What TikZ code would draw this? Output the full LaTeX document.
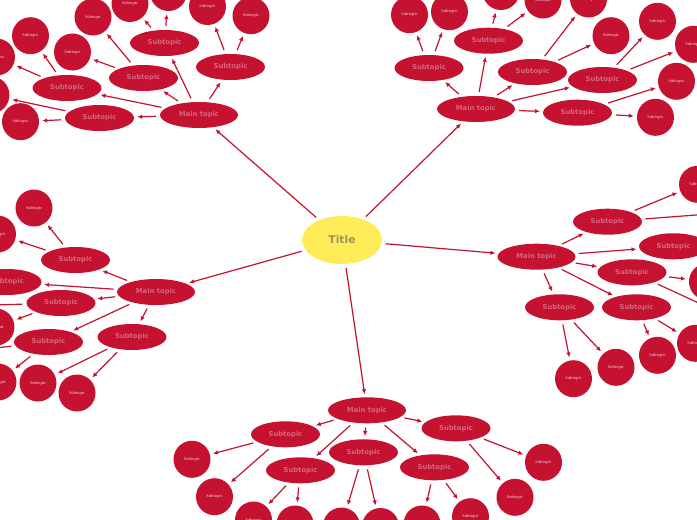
\documentclass[tikz,border=0pt]{standalone}
\usepackage{fontspec}
\setmainfont{DejaVu Sans}
\newfontfamily\leaffont{Liberation Serif}
\usetikzlibrary{shapes.geometric,arrows.meta}
\definecolor{mmred}{HTML}{C41230}
\definecolor{mmtext}{HTML}{D4667F}
\definecolor{mmleaf}{HTML}{E49AAA}
\definecolor{mmyellow}{HTML}{FFEC58}
\definecolor{mmtitle}{HTML}{9E9458}
\tikzset{
  titlenode/.style={ellipse,fill=mmyellow,minimum width=80pt,minimum height=48pt,inner sep=0pt,
    text=mmtitle,font=\fontsize{10.7}{12}\selectfont\bfseries},
  mainnode/.style={ellipse,fill=mmred,minimum width=78pt,minimum height=26pt,inner sep=0pt,
    text=mmtext,font=\fontsize{6.8}{8}\selectfont\bfseries},
  subnode/.style={ellipse,fill=mmred,minimum width=69pt,minimum height=26pt,inner sep=0pt,
    text=mmtext,font=\fontsize{6.8}{8}\selectfont\bfseries},
  leafnode/.style={circle,fill=mmred,minimum size=37pt,inner sep=0pt,
    text=mmleaf,font=\leaffont\fontsize{4.3}{5}\selectfont\bfseries},
  arr/.style={draw=mmred,line width=1.2pt,-{Latex[length=5pt,width=4.5pt]},
    shorten <=4pt,shorten >=3pt},
}
\begin{document}
\begin{tikzpicture}[x=1pt,y=-1pt]
\path[use as bounding box] (0,0) rectangle (697,520);
\clip (0,0) rectangle (697,520);
% title
\node[titlenode] (T) at (342,240) {Title};
% top-left
\node[mainnode] (mTL) at (199,115) {Main topic};
\node[subnode] (sTL1) at (164.5,43) {Subtopic};
\node[subnode] (sTL2) at (143.5,78) {Subtopic};
\node[subnode] (sTL3) at (230.5,67) {Subtopic};
\node[subnode] (sTL4) at (67,88) {Subtopic};
\node[subnode] (sTL5) at (99.5,118) {Subtopic};
\node[leafnode] (cTL1a) at (130,3.5) {Subtopic};
\node[leafnode] (cTL1b) at (168.5,-7.5) {Subtopic};
\node[leafnode] (cTL2a) at (93,17) {Subtopic};
\node[leafnode] (cTL2b) at (72.5,52) {Subtopic};
\node[leafnode] (cTL3a) at (207.5,6.5) {Subtopic};
\node[leafnode] (cTL3b) at (251,15.7) {Subtopic};
\node[leafnode] (cTL4a) at (30.5,35.7) {Subtopic};
\node[leafnode] (cTL4b) at (-3.5,57) {Subtopic};
\node[leafnode] (cTL5a) at (-9,95) {Subtopic};
\node[leafnode] (cTL5b) at (20.5,121.7) {Subtopic};
% top-right
\node[mainnode] (mTR) at (476,109) {Main topic};
\node[subnode] (sTR1) at (429,68) {Subtopic};
\node[subnode] (sTR2) at (488.5,40.7) {Subtopic};
\node[subnode] (sTR3) at (532.5,72) {Subtopic};
\node[subnode] (sTR4) at (602.5,80) {Subtopic};
\node[subnode] (sTR5) at (577.5,112.7) {Subtopic};
\node[leafnode] (cTR1a) at (409.5,14.7) {Subtopic};
\node[leafnode] (cTR1b) at (449.5,11.7) {Subtopic};
\node[leafnode] (cTR2a) at (501,-8.5) {Subtopic};
\node[leafnode] (cTR2b) at (543,0) {Subtopic};
\node[leafnode] (cTR3a) at (588.5,-1) {Subtopic};
\node[leafnode] (cTR3b) at (611,35.7) {Subtopic};
\node[leafnode] (cTR4a) at (657.5,21.3) {Subtopic};
\node[leafnode] (cTR4b) at (693.5,44.3) {Subtopic};
\node[leafnode] (cTR5a) at (676.5,81.3) {Subtopic};
\node[leafnode] (cTR5b) at (655.5,117.3) {Subtopic};
% left
\node[mainnode] (mL) at (156,292) {Main topic};
\node[subnode] (sL1) at (75.5,260) {Subtopic};
\node[subnode] (sL2) at (7,282) {Subtopic};
\node[subnode] (sL3) at (61,303) {Subtopic};
\node[subnode] (sL4) at (48.5,342) {Subtopic};
\node[subnode] (sL5) at (132,337) {Subtopic};
\node[leafnode] (cL1a) at (34,208) {Subtopic};
\node[leafnode] (cL1b) at (-2.5,234) {Subtopic};
\coordinate (cL3a) at (-40,306);
\node[leafnode] (cL3b) at (-4,327) {Subtopic};
\coordinate (cL4a) at (-40,352);
\node[leafnode] (cL4b) at (-2,382) {Subtopic};
\node[leafnode] (cL5a) at (77,393) {Subtopic};
\node[leafnode] (cL5b) at (38,383) {Subtopic};
% right
\node[mainnode] (mR) at (536.5,256.7) {Main topic};
\node[subnode] (sR1) at (607.5,221.7) {Subtopic};
\node[subnode] (sR2) at (673.5,246.3) {Subtopic};
\node[subnode] (sR3) at (632,272.3) {Subtopic};
\node[subnode] (sR4) at (559.5,307.3) {Subtopic};
\node[subnode] (sR5) at (636.5,307.3) {Subtopic};
\node[leafnode] (cR1a) at (697.5,184.3) {Subtopic};
\coordinate (cR1b) at (740,211.7);
\node[leafnode] (cR3a) at (707.5,281.7) {Subtopic};
\coordinate (cR3b) at (740,322);
\node[leafnode] (cR4a) at (573.5,378.7) {Subtopic};
\node[leafnode] (cR4b) at (616,367.3) {Subtopic};
\node[leafnode] (cR5a) at (657.5,355.3) {Subtopic};
\node[leafnode] (cR5b) at (695.5,343.3) {Subtopic};
% bottom
\node[mainnode] (mB) at (367,410.3) {Main topic};
\node[subnode] (sB1) at (285.5,434.3) {Subtopic};
\node[subnode] (sB2) at (300.5,470.3) {Subtopic};
\node[subnode] (sB3) at (363.5,452.3) {Subtopic};
\node[subnode] (sB4) at (434.5,467.3) {Subtopic};
\node[subnode] (sB5) at (456,428.3) {Subtopic};
\node[leafnode] (cB1a) at (192,459.3) {Subtopic};
\node[leafnode] (cB1b) at (214.5,496.7) {Subtopic};
\node[leafnode] (cB2a) at (253.5,520) {Subtopic};
\node[leafnode] (cB2b) at (295,524) {Subtopic};
\node[leafnode] (cB3a) at (341.5,526) {Subtopic};
\node[leafnode] (cB3b) at (380.5,526.5) {Subtopic};
\node[leafnode] (cB4a) at (422,524) {Subtopic};
\node[leafnode] (cB4b) at (470.5,516.7) {Subtopic};
\node[leafnode] (cB5a) at (515,497.3) {Subtopic};
\node[leafnode] (cB5b) at (543.5,462.3) {Subtopic};
% connectors
\foreach \a/\b in {T/mTL,T/mTR,T/mL,T/mR,T/mB,
  mTL/sTL1,mTL/sTL2,mTL/sTL3,mTL/sTL4,mTL/sTL5,
  sTL1/cTL1a,sTL1/cTL1b,sTL2/cTL2a,sTL2/cTL2b,sTL3/cTL3a,sTL3/cTL3b,
  sTL4/cTL4a,sTL4/cTL4b,sTL5/cTL5a,sTL5/cTL5b,
  mTR/sTR1,mTR/sTR2,mTR/sTR3,mTR/sTR4,mTR/sTR5,
  sTR1/cTR1a,sTR1/cTR1b,sTR2/cTR2a,sTR2/cTR2b,sTR3/cTR3a,sTR3/cTR3b,
  sTR4/cTR4a,sTR4/cTR4b,sTR5/cTR5a,sTR5/cTR5b,
  mL/sL1,mL/sL2,mL/sL3,mL/sL4,mL/sL5,
  sL1/cL1a,sL1/cL1b,sL3/cL3a,sL3/cL3b,sL4/cL4a,sL4/cL4b,sL5/cL5a,sL5/cL5b,
  mR/sR1,mR/sR2,mR/sR3,mR/sR4,mR/sR5,
  sR1/cR1a,sR1/cR1b,sR3/cR3a,sR3/cR3b,sR4/cR4a,sR4/cR4b,sR5/cR5a,sR5/cR5b,
  mB/sB1,mB/sB2,mB/sB3,mB/sB4,mB/sB5,
  sB1/cB1a,sB1/cB1b,sB2/cB2a,sB2/cB2b,sB3/cB3a,sB3/cB3b,
  sB4/cB4a,sB4/cB4b,sB5/cB5a,sB5/cB5b}
  {\draw[arr] (\a) -- (\b);}
\end{tikzpicture}
\end{document}
